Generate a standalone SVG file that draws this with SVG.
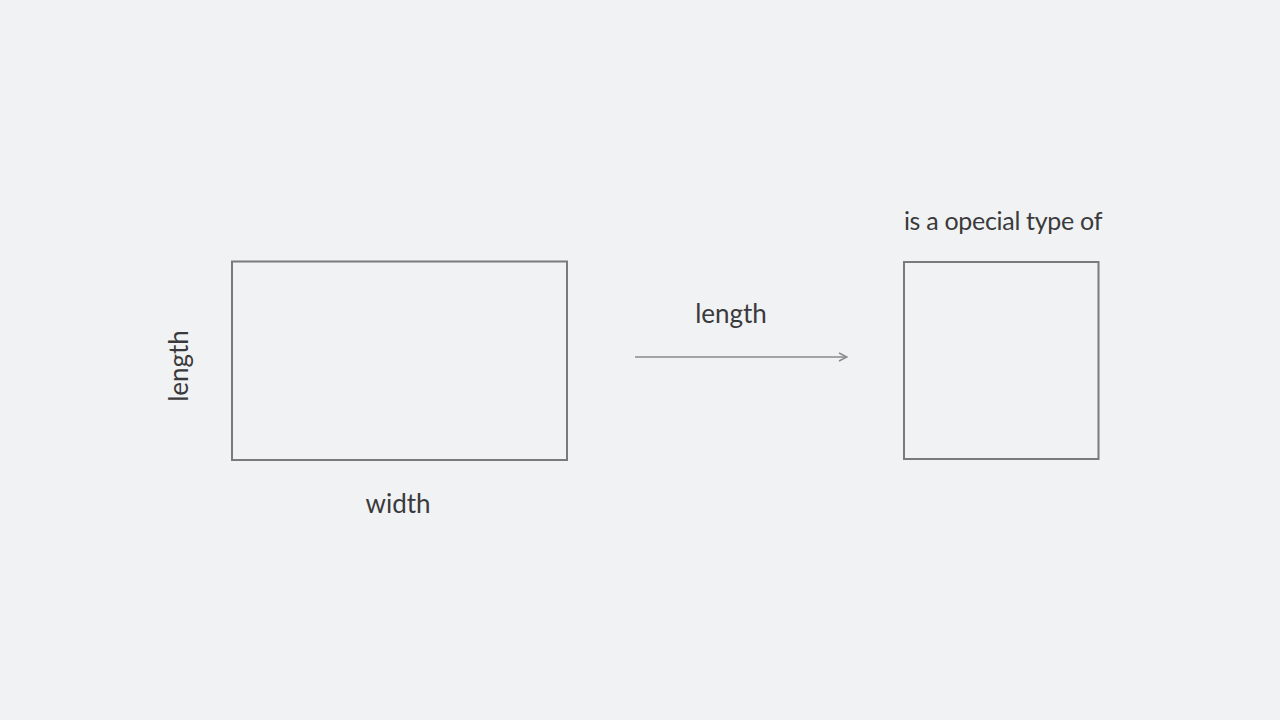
<svg xmlns="http://www.w3.org/2000/svg" width="1280" height="720" viewBox="0 0 1280 720">
<defs>
<style>
.shape{fill:none;stroke:#7a7a7c;stroke-width:2}
.lbl{font-family:Lato,"Open Sans","Liberation Sans",sans-serif;font-size:26px;fill:#3a3a3c;text-anchor:middle}
.conn{stroke:#8a8a8c;stroke-width:1.6;fill:none}
</style>
<marker id="arr" viewBox="0 0 10 10" refX="9" refY="5" markerWidth="10" markerHeight="10" markerUnits="userSpaceOnUse" orient="auto">
<path d="M1,1 L9,5 L1,9" fill="none" stroke="#8a8a8c" stroke-width="1.4"/>
</marker>
</defs>
<rect width="1280" height="720" fill="#f1f2f4"/>
<g id="rectangle">
<rect class="shape" x="232" y="261.5" width="335" height="198.5"/>
<text class="lbl" x="398" y="513">width</text>
<text class="lbl" transform="translate(188,366) rotate(-90)">length</text>
</g>
<g id="square">
<rect class="shape" x="904" y="262" width="194.5" height="197"/>
<text class="lbl" x="1003" y="230" style="font-size:25px;letter-spacing:-0.3px">is a opecial type of</text>
</g>
<g id="connectors">
<line class="conn" x1="635" y1="357" x2="847" y2="357" marker-end="url(#arr)"/>
<text class="lbl" x="731" y="323">length</text>
</g>
</svg>
